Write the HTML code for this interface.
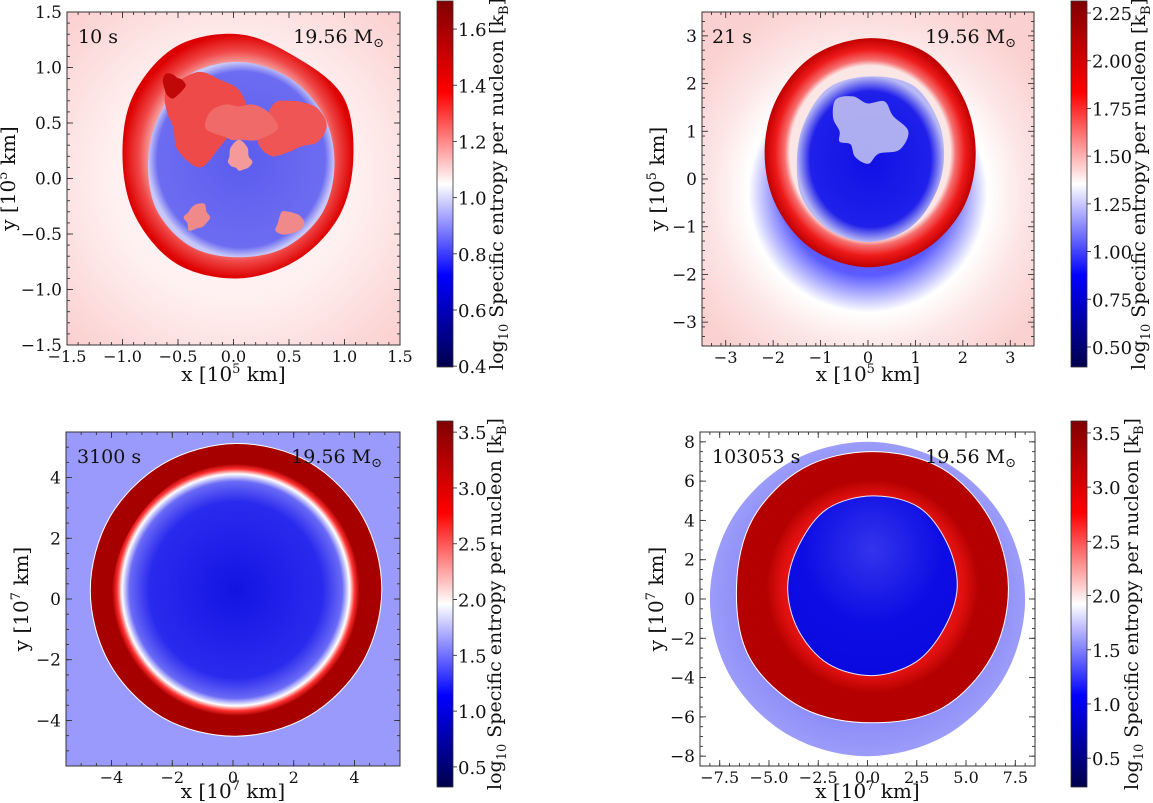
<!DOCTYPE html>
<html><head><meta charset="utf-8">
<style>
html,body{margin:0;padding:0;background:#fff;}
svg{display:block;font-family:"DejaVu Serif","Liberation Serif",serif;}
</style></head>
<body>
<svg id="fig" width="1153" height="803" viewBox="0 0 1153 803" xmlns="http://www.w3.org/2000/svg">
<defs>
<linearGradient id="seismicV" x1="0" y1="1" x2="0" y2="0">
<stop offset="0" stop-color="#00004c"/><stop offset="0.25" stop-color="#0000ff"/><stop offset="0.5" stop-color="#ffffff"/><stop offset="0.75" stop-color="#ff0000"/><stop offset="1" stop-color="#800000"/>
</linearGradient>
<radialGradient id="p1bg" cx="0.5" cy="0.5" r="0.72"><stop offset="0.5" stop-color="#fff1f1"/><stop offset="1" stop-color="#fbcdcd"/></radialGradient>
<radialGradient id="p1shell" cx="0.5" cy="0.5" r="0.5"><stop offset="0.72" stop-color="#f8c4c4"/><stop offset="0.86" stop-color="#f04848"/><stop offset="1" stop-color="#dd0000"/></radialGradient>
<radialGradient id="p1blue" cx="0.5" cy="0.5" r="0.5"><stop offset="0" stop-color="#5c5cee"/><stop offset="0.9" stop-color="#6c6cf2"/><stop offset="1" stop-color="#c8c8f8"/></radialGradient>
<radialGradient id="p2bg" cx="0.5" cy="0.54" r="0.62"><stop offset="0.4" stop-color="#5a5aff"/><stop offset="0.58" stop-color="#ffffff"/><stop offset="0.75" stop-color="#fde6e6"/><stop offset="1" stop-color="#fbd0d0"/></radialGradient>
<radialGradient id="p2shell" cx="0.5" cy="0.5" r="0.5"><stop offset="0.76" stop-color="#fbe6e6"/><stop offset="0.81" stop-color="#f67070"/><stop offset="0.9" stop-color="#ee1a1a"/><stop offset="1" stop-color="#c00000"/></radialGradient>
<radialGradient id="p2blue" cx="0.5" cy="0.5" r="0.5"><stop offset="0" stop-color="#1010e6"/><stop offset="0.82" stop-color="#2020ea"/><stop offset="1" stop-color="#b8b8f5"/></radialGradient>
<radialGradient id="p3inner" cx="0.5" cy="0.5" r="0.5"><stop offset="0" stop-color="#1414e2"/><stop offset="0.7" stop-color="#2a2aee"/><stop offset="0.86" stop-color="#6a6af6"/><stop offset="0.92" stop-color="#ffffff"/><stop offset="0.96" stop-color="#ff3030"/><stop offset="1" stop-color="#a80000"/></radialGradient>
<radialGradient id="p4outer" cx="0.5" cy="0.5" r="0.5"><stop offset="0.7" stop-color="#8686f6"/><stop offset="1" stop-color="#9c9cfa"/></radialGradient>
<radialGradient id="p4ring" cx="0.5" cy="0.5" r="0.5"><stop offset="0.7" stop-color="#f01818"/><stop offset="0.85" stop-color="#e01010"/><stop offset="1" stop-color="#b40000"/></radialGradient>
<radialGradient id="p4blue" cx="0.5" cy="0.3" r="0.7"><stop offset="0" stop-color="#3434ec"/><stop offset="0.6" stop-color="#0c0ce4"/><stop offset="1" stop-color="#0a0ae0"/></radialGradient>
</defs>
</svg>
<script>
// ---------- data arrays ----------
const p1XTicks=[-1.5,-1.0,-0.5,0.0,0.5,1.0,1.5];
const p1YTicks=[-1.5,-1.0,-0.5,0.0,0.5,1.0,1.5];
const p2XTicks=[-3,-2,-1,0,1,2,3];
const p2YTicks=[-3,-2,-1,0,1,2,3];
const p3XTicks=[-4,-2,0,2,4];
const p3YTicks=[-4,-2,0,2,4];
const p4XTicks=[-7.5,-5.0,-2.5,0.0,2.5,5.0,7.5];
const p4YTicks=[-8,-6,-4,-2,0,2,4,6,8];
const cb1Ticks=[0.4,0.6,0.8,1.0,1.2,1.4,1.6];
const cb2Ticks=[0.50,0.75,1.00,1.25,1.50,1.75,2.00,2.25];
const cb3Ticks=[0.5,1.0,1.5,2.0,2.5,3.0,3.5];
const cb4Ticks=[0.5,1.0,1.5,2.0,2.5,3.0,3.5];
const cbRanges=[[0.397,1.70],[0.395,2.313],[0.32,3.6],[0.234,3.61]];
const timeLabels=["10 s","21 s","3100 s","103053 s"];
const massLabel="19.56";
// shape radii (data units) at evenly spaced angles from +x counter-clockwise
const p1ShellR=[1.03,1.08,1.03,1.1,1.14,1.1,1.05,1.08,1.12,1.1,1.07,1.05];
const p1BlueR=[0.86,0.88,0.9,0.92,0.92,0.84,0.82,0.85,0.86,0.84,0.86,0.87];
const p1PlumeAR=[0.42,0.4,0.34,0.36,0.34,0.36,0.3,0.28,0.4,0.5,0.36,0.34];
const p1PlumeBR=[0.34,0.3,0.24,0.22,0.24,0.22,0.24,0.32,0.32,0.24,0.22,0.3];
const p2ShellR=[2.25,2.3,2.42,2.4,2.35,2.25,2.2,2.25,2.35,2.4,2.35,2.3];
const p2BlueR=[1.55,1.65,1.8,1.75,1.75,1.6,1.55,1.65,1.7,1.72,1.65,1.55];
const p2TurbR=[1.0,0.75,0.8,0.6,0.75,0.85,0.65,0.45,0.5,0.35,0.55,0.7,0.6,0.9];
const p3ShellR=[4.8,4.82,4.85,4.82,4.8,4.8,4.8,4.82,4.85,4.82,4.8,4.8];
const p3InnerR=[4.05,4.1,4.15,4.1,4.05,4.0,4.1,4.2,4.3,4.2,4.15,4.1];
const p4OuterR=[8.0,8.0,8.0,8.0,8.0,8.0,8.0,8.0,8.0,8.0,8.0,8.0];
const p4ShellR=[6.9,6.9,7.0,6.9,7.0,7.0,6.9,7.2,7.1,6.9,7.1,7.0];
const p4RingR=[5.4,5.5,5.4,5.5,5.6,5.3,5.4,5.6,5.5,5.4,5.6,5.3];
const p4BlueR=[4.3,4.4,4.7,4.65,4.6,4.3,4.3,4.35,4.5,4.5,4.4,4.2];

const NS="http://www.w3.org/2000/svg";
const svg=document.getElementById('fig');
function el(tag,attrs,parent){const e=document.createElementNS(NS,tag);for(const k in attrs)e.setAttribute(k,attrs[k]);(parent||svg).appendChild(e);return e;}
function makeAxis(px0,px1,py0,py1,lim){return {x:v=>px0+(v+lim)/(2*lim)*(px1-px0),y:v=>py1-(v+lim)/(2*lim)*(py1-py0),s:(px1-px0)/(2*lim),px0,px1,py0,py1,lim};}
function blobPath(ax,cx,cy,radii){
  const n=radii.length;const pts=radii.map((r,i)=>{const a=i*2*Math.PI/n;return [ax.x(cx+r*Math.cos(a)),ax.y(cy+r*Math.sin(a))];});
  let d='M'+pts[0][0].toFixed(1)+','+pts[0][1].toFixed(1);
  for(let i=0;i<n;i++){const p0=pts[(i-1+n)%n],p1=pts[i],p2=pts[(i+1)%n],p3=pts[(i+2)%n];
    const c1=[p1[0]+(p2[0]-p0[0])/6,p1[1]+(p2[1]-p0[1])/6],c2=[p2[0]-(p3[0]-p1[0])/6,p2[1]-(p3[1]-p1[1])/6];
    d+=' C'+c1.map(v=>v.toFixed(1)).join(',')+' '+c2.map(v=>v.toFixed(1)).join(',')+' '+p2.map(v=>v.toFixed(1)).join(',');}
  return d+'Z';}
function blob(g,ax,cx,cy,radii,fill,name,extra){const p=el('path',Object.assign({d:blobPath(ax,cx,cy,radii),fill:fill},extra||{}),g);


return p;}
function fmt(v,d){return (v<0?'\u2212':'')+Math.abs(v).toFixed(d);}

function drawAxes(ax,xt,yt,xdec,ydec,minorStepX,minorStepY,expo,name,xlabY,ylabX){
  const g=el('g',{});
  
  
  el('rect',{x:ax.px0,y:ax.py0,width:ax.px1-ax.px0,height:ax.py1-ax.py0,fill:'none',stroke:'#333',"stroke-width":1},g);
  const tk=(x1,y1,x2,y2)=>el('line',{x1,y1,x2,y2,stroke:'#333',"stroke-width":0.9},g);
  for(let v=-ax.lim;v<=ax.lim+1e-9;v+=minorStepX){const x=ax.x(v);tk(x,ax.py1,x,ax.py1-3);tk(x,ax.py0,x,ax.py0+3);}
  for(let v=-ax.lim;v<=ax.lim+1e-9;v+=minorStepY){const y=ax.y(v);tk(ax.px0,y,ax.px0+3,y);tk(ax.px1,y,ax.px1-3,y);}
  xt.forEach(v=>{const x=ax.x(v);tk(x,ax.py1,x,ax.py1-6);tk(x,ax.py0,x,ax.py0+6);
    const t=el('text',{x:x,y:ax.py1+17,"text-anchor":"middle","font-size":16,fill:'#111'},g);t.textContent=fmt(v,xdec);
    
    });
  yt.forEach(v=>{const y=ax.y(v);tk(ax.px0,y,ax.px0+6,y);tk(ax.px1,y,ax.px1-6,y);
    const t=el('text',{x:ax.px0-5,y:y+6,"text-anchor":"end","font-size":17,fill:'#111'},g);t.textContent=fmt(v,ydec);
    
    });
  const xl=el('text',{x:(ax.px0+ax.px1)/2,y:xlabY,"text-anchor":"middle","font-size":20,fill:'#111'},g);
  xl.innerHTML='x [10<tspan dy="-8" font-size="13">'+expo+'</tspan><tspan dy="8"> km]</tspan>';
  
  
  const cy=(ax.py0+ax.py1)/2;
  const yl=el('text',{x:ylabX,y:cy,"text-anchor":"middle","font-size":20,fill:'#111',transform:`rotate(-90 ${ylabX} ${cy})`},g);
  yl.innerHTML='y [10<tspan dy="-8" font-size="13">'+expo+'</tspan><tspan dy="8"> km]</tspan>';
  
  
}
function annot(tx,ty,time,mx,name){
  const t=el('text',{x:tx,y:ty,"font-size":19,fill:'#111'});t.textContent=time;
  
  
  const m=el('text',{x:mx,y:ty,"font-size":19,fill:'#111',"text-anchor":"end"});
  m.innerHTML=massLabel+' M<tspan dy="4" font-size="13">\u2299</tspan>';
  
  
}
function colorbar(x,y0,y1,range,ticks,dec,labX,name){
  const g=el('g',{});
  
  
  el('rect',{x:x,y:y0,width:16,height:y1-y0,fill:'url(#seismicV)',stroke:'#333',"stroke-width":0.8},g);
  const yv=v=>y1-(v-range[0])/(range[1]-range[0])*(y1-y0);
  ticks.forEach(v=>{const y=yv(v);el('line',{x1:x+16,y1:y,x2:x+20,y2:y,stroke:'#333',"stroke-width":0.9},g);
    const t=el('text',{x:x+21,y:y+7,"font-size":18,fill:'#111'},g);t.textContent=v.toFixed(dec);
    
    });
  const cy=(y0+y1)/2;
  const l=el('text',{x:labX,y:cy,"text-anchor":"middle","font-size":19,fill:'#111',transform:`rotate(-90 ${labX} ${cy})`},g);
  l.innerHTML='log<tspan dy="5" font-size="13">10</tspan><tspan dy="-5"> Specific entropy per nucleon [k</tspan><tspan dy="5" font-size="13">B</tspan><tspan dy="-5">]</tspan>';
  
  
}

// ---------- Panel 1 ----------
const a1=makeAxis(67,400,12,345,1.5);
let g=el('g',{});


el('rect',{x:a1.px0,y:a1.py0,width:333,height:333,fill:'url(#p1bg)'},g);
blob(g,a1,0.05,0.2,p1ShellR,'url(#p1shell)','shock-shell');
blob(g,a1,0.05,0.13,p1BlueR,'url(#p1blue)','inner-ejecta');
blob(g,a1,-0.3,0.6,p1PlumeAR,'#ee4a4a','plume-left');
blob(g,a1,0.5,0.48,p1PlumeBR,'#ef5555','plume-right');
blob(g,a1,0.05,0.45,[0.35,0.3,0.25,0.2,0.25,0.3,0.3,0.15,0.12,0.1,0.12,0.2],'#f06a6a','plume-center');
blob(g,a1,-0.55,0.84,[0.12,0.1,0.08,0.1,0.12,0.1,0.08,0.08,0.1,0.12,0.1,0.1],'#c00808','plume-core');
blob(g,a1,-0.33,-0.35,[0.12,0.1,0.14,0.12,0.1,0.09,0.12,0.1,0.14,0.1,0.1,0.1],'#f08a8a','plume-low-left');
blob(g,a1,0.5,-0.4,[0.14,0.12,0.1,0.1,0.12,0.1,0.1,0.14,0.12,0.1,0.1,0.12],'#f08a8a','plume-low-right');
blob(g,a1,0.05,0.15,[0.12,0.1,0.15,0.2,0.15,0.1,0.1,0.08,0.06,0.08,0.08,0.1],'#f49a9a','plume-stem');
drawAxes(a1,p1XTicks,p1YTicks,1,1,0.1,0.1,5,'panel-10s',381,15);
annot(78,43,timeLabels[0],384,'panel-10s');
colorbar(437,1,367,cbRanges[0],cb1Ticks,1,503,'colorbar-10s');

// ---------- Panel 2 ----------
const a2=makeAxis(702,1034,12,346,3.5);
g=el('g',{});


el('rect',{x:a2.px0,y:a2.py0,width:332,height:334,fill:'url(#p2bg)'},g);
blob(g,a2,0.02,0.55,p2ShellR,'url(#p2shell)','shock-shell');
blob(g,a2,0.05,0.4,p2BlueR,'url(#p2blue)','inner-ejecta');
blob(g,a2,-0.15,1.0,p2TurbR,'#c8c8f2','turbulent-region',{opacity:0.85});
drawAxes(a2,p2XTicks,p2YTicks,0,0,0.2,0.2,5,'panel-21s',381,664);
annot(712,43,timeLabels[1],1016,'panel-21s');
colorbar(1071,1,367,cbRanges[1],cb2Ticks,2,1145,'colorbar-21s');

// ---------- Panel 3 ----------
const a3=makeAxis(66,400,432,766,5.5);
g=el('g',{});


el('rect',{x:a3.px0,y:a3.py0,width:334,height:334,fill:'#9a9afc'},g);
blob(g,a3,0.1,0.3,p3ShellR,'#a60000','shock-shell',{stroke:'#fff',"stroke-width":1});
blob(g,a3,0.12,0.35,p3InnerR,'url(#p3inner)','inner-ejecta');
drawAxes(a3,p3XTicks,p3YTicks,0,0,0.5,0.5,7,'panel-3100s',798,28);
annot(77,463,timeLabels[2],382,'panel-3100s');
colorbar(437,421,787,cbRanges[2],cb3Ticks,1,501,'colorbar-3100s');

// ---------- Panel 4 ----------
const a4=makeAxis(700,1035,432,766,8.5);
g=el('g',{});


el('rect',{x:a4.px0,y:a4.py0,width:335,height:334,fill:'#ffffff'},g);
blob(g,a4,0,0,p4OuterR,'url(#p4outer)','outer-envelope');
blob(g,a4,0.25,0.6,p4ShellR,'#b40000','shock-shell',{stroke:'#fff',"stroke-width":1});
blob(g,a4,0.25,0.6,p4RingR,'url(#p4ring)','mixing-ring');
blob(g,a4,0.25,0.6,p4BlueR,'url(#p4blue)','inner-ejecta',{stroke:'#e8e8ff',"stroke-width":1});
drawAxes(a4,p4XTicks,p4YTicks,1,0,0.5,0.5,7,'panel-103053s',798,663);
annot(712,463,timeLabels[3],1016,'panel-103053s');
colorbar(1071,421,787,cbRanges[3],cb4Ticks,1,1138,'colorbar-103053s');
</script>
</body></html>
